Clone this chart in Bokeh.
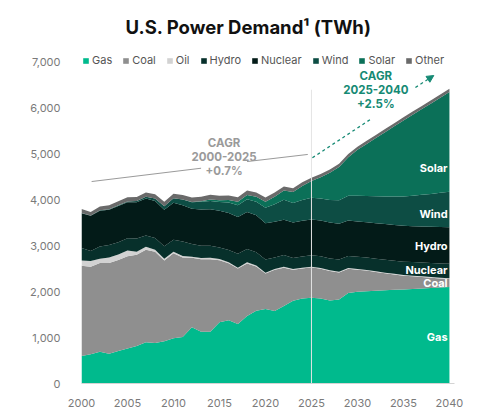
from bokeh.core.properties import value
from bokeh.embed import file_html
from bokeh.models import (Arrow, ColumnDataSource, FixedTicker, Label, Legend,
                          LegendItem, NormalHead, NumeralTickFormatter, Range1d)
from bokeh.plotting import figure
from bokeh.resources import INLINE

years = list(range(2000, 2041))

gas = [601, 639, 691, 650, 710, 761, 816, 897, 883, 921, 988, 1014, 1226, 1125, 1127,
       1335, 1379, 1297, 1469, 1586, 1624, 1579, 1687, 1802, 1851,
       1870, 1850, 1810, 1830, 1970, 2000, 2010, 2020, 2030, 2040, 2050, 2060, 2070, 2080, 2090, 2100]
coal = [1966, 1904, 1933, 1974, 1978, 2013, 1991, 2016, 1986, 1756, 1847, 1733, 1514, 1581, 1582,
        1352, 1239, 1206, 1146, 965, 774, 898, 832, 675, 653,
        660, 650, 640, 590, 530, 480, 450, 410, 370, 335, 300, 275, 250, 225, 200, 180]
oil = [111, 125, 94, 119, 121, 122, 64, 66, 46, 39, 37, 30, 23, 27, 30,
       28, 24, 21, 25, 18, 17, 19, 23, 16, 16,
       15, 15, 15, 15, 15, 15, 15, 15, 15, 15, 15, 15, 15, 15, 15, 15]
hydro = [276, 217, 264, 276, 268, 270, 289, 248, 254, 273, 260, 319, 276, 269, 260,
         249, 268, 300, 292, 288, 285, 251, 255, 240, 245,
         250, 255, 260, 265, 265, 265, 270, 275, 280, 285, 290, 295, 300, 305, 310, 315]
nuclear = [754, 769, 780, 764, 789, 782, 787, 806, 806, 799, 807, 790, 769, 789, 797,
           797, 806, 805, 807, 809, 790, 778, 772, 775, 782,
           780, 780, 780, 780, 770, 770, 770, 770, 780, 780, 780, 780, 785, 790, 795, 795]
wind = [6, 7, 10, 11, 14, 18, 27, 35, 55, 74, 95, 120, 141, 168, 182,
        191, 227, 254, 273, 295, 338, 380, 434, 425, 452,
        470, 480, 495, 510, 540, 560, 570, 590, 600, 620, 640, 665, 690, 715, 745, 775]
solar = [1, 1, 1, 1, 1, 1, 1, 1, 1, 1, 1, 2, 4, 9, 29,
         39, 55, 77, 93, 107, 131, 164, 202, 238, 303,
         365, 465, 590, 725, 840, 1000, 1133, 1266, 1399, 1527, 1655, 1764, 1868, 1972, 2071, 2170]
other = [85, 76, 85, 86, 87, 88, 89, 90, 92, 95, 97, 97, 97, 100, 103,
         102, 100, 100, 100, 95, 92, 90, 87, 85, 85,
         70, 70, 70, 70, 70, 70, 70, 70, 70, 70, 70, 70, 70, 70, 70, 70]

names = ["Gas", "Coal", "Oil", "Hydro", "Nuclear", "Wind", "Solar", "Other"]
colors = ["#00BA8D", "#8F8F8F", "#D2D2D2", "#07302B", "#031B18", "#0D4D44", "#0B7058", "#6A6A6A"]

# labels at the right end, as they stand in the chart
end_labels = ["Solar", "Wind", "Hydro", "Nuclear", "Coal", "Gas"]
end_label_y = [4700, 3700, 3000, 2480, 2200, 1020]

split_year = 2025
split_top = 6400
hist_cagr = ["CAGR", "2000-2025", "+0.7%"]
proj_cagr = ["CAGR", "2025-2040", "+2.5%"]

FONT = "Inter"

source = ColumnDataSource(dict(year=years, Gas=gas, Coal=coal, Oil=oil, Hydro=hydro,
                               Nuclear=nuclear, Wind=wind, Solar=solar, Other=other))

# frame runs up to the top of the page so title and legend sit inside it
p = figure(width=496, height=412, x_range=Range1d(2000, 2040.55), y_range=Range1d(0, 8344),
           output_backend="svg", toolbar_location=None,
           min_border_left=81, min_border_right=42, min_border_top=0, min_border_bottom=29)
p.outline_line_color = None
p.xgrid.grid_line_color = None
p.ygrid.grid_line_color = None
p.background_fill_color = "white"

areas = p.varea_stack(stackers=names, x="year", color=colors, source=source)

p.segment(x0=[split_year], y0=[0], x1=[split_year], y1=[split_top],
          line_color="#E4E4E4", line_width=1)

p.xaxis.ticker = FixedTicker(ticks=list(range(2000, 2041, 5)))
p.yaxis.ticker = FixedTicker(ticks=list(range(0, 7001, 1000)))
p.yaxis.formatter = NumeralTickFormatter(format="0,0")
for ax in (p.xaxis, p.yaxis):
    ax.major_tick_line_color = None
    ax.minor_tick_line_color = None
    ax.major_label_text_color = "#7A7A7A"
    ax.major_label_text_font = FONT
    ax.major_label_text_font_size = "11px"
p.yaxis.axis_line_color = None
p.yaxis.major_label_standoff = 15
p.xaxis.axis_line_color = "#D4D4D4"
p.xaxis.major_label_standoff = 9

legend = Legend(items=[LegendItem(label=n, renderers=[r]) for n, r in zip(names, areas)],
                orientation="horizontal", location=(1, 316),
                glyph_width=7, glyph_height=7, label_height=10, label_width=1,
                label_standoff=3, spacing=10, padding=0, margin=0, border_line_alpha=0,
                background_fill_alpha=0, label_text_font=FONT,
                label_text_font_size="11px", label_text_color="#555555")
p.add_layout(legend)

title = Label(x=167, y=357, x_units="screen", y_units="screen",
              text="U.S. Power Demand\u00b9 (TWh)", text_align="center",
              text_baseline="middle", text_font=FONT, text_font_style="bold",
              text_font_size="18.5px", text_color="#111111")
p.add_layout(title)

for t, y in zip(end_labels, end_label_y):
    p.add_layout(Label(x=2039.8, y=y, text=t, text_align="right", text_baseline="middle",
                       text_font=FONT, text_font_style="bold", text_font_size="11px",
                       text_color="white"))

# historical CAGR
p.segment(x0=[2001.1, 2024.6 - 6.6], y0=[4400, 4835], x1=[2013.0, 2024.6], y1=[4690, 4990],
          line_color="#9A9A9A", line_width=1)
for t, y in zip(hist_cagr, [5240, 4935, 4630]):
    p.add_layout(Label(x=2015.5, y=y, text=t, text_align="center", text_baseline="middle",
                       text_font=FONT, text_font_style="bold", text_font_size="11.5px",
                       text_color="#9A9A9A"))

# projected CAGR
p.segment(x0=[2025.1], y0=[4917], x1=[2031.4], y1=[5752],
          line_color="#168A74", line_width=1.3, line_dash="3 3")
p.add_layout(Arrow(x_start=2036.3, y_start=6449, x_end=2038.3, y_end=6710,
                   line_color="#168A74", line_width=1.3, line_dash="3 3",
                   end=NormalHead(size=7, fill_color="#168A74", line_color="#168A74")))
for t, y in zip(proj_cagr, [6710, 6405, 6100]):
    p.add_layout(Label(x=2032.0, y=y, text=t, text_align="center", text_baseline="middle",
                       text_font=FONT, text_font_style="bold", text_font_size="11.5px",
                       text_color="#168A74"))

open("out.html", "w").write(file_html(p, INLINE))
